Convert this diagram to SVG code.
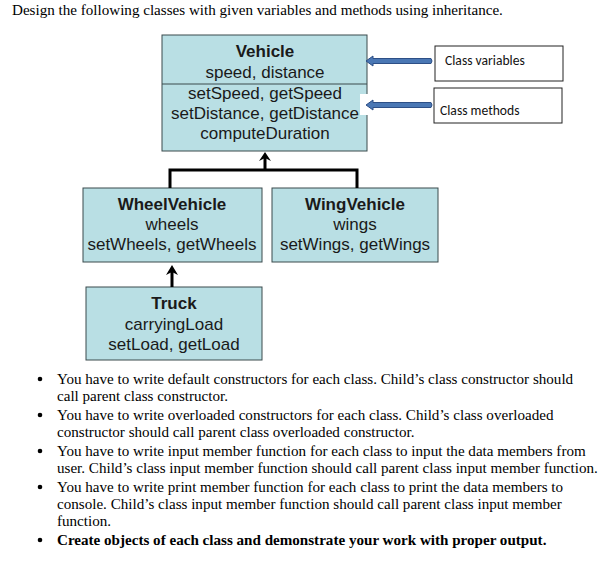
<svg xmlns="http://www.w3.org/2000/svg" width="607" height="564" viewBox="0 0 607 564">
<defs>
<style>
.box{fill:#b9dfe4;stroke:#3a4a4c;stroke-width:1}
.t{font-family:"Liberation Sans",Arial,sans-serif;font-size:17px;fill:#1a1a1a;text-anchor:middle}
.b{font-weight:bold}
.lbl{font-family:Carlito,"Liberation Sans",sans-serif;font-size:13.6px;fill:#111}
.doc{font-family:"Liberation Serif","Times New Roman",serif;font-size:15.1px;fill:#000}
.conn{fill:none;stroke:#000;stroke-width:3}
.blue{fill:#4a77b4;stroke:#2d4f86;stroke-width:1;stroke-linejoin:round}
</style>
</defs>
<rect width="607" height="564" fill="#fff"/>
<text class="doc" x="12" y="15">Design the following classes with given variables and methods using inheritance.</text>

<g id="vehicle">
<rect class="box" x="162" y="35" width="205" height="116"/>
<line x1="162" y1="84" x2="367" y2="84" stroke="#3a4a4c" stroke-width="1"/>
<rect x="360" y="94" width="9" height="21" fill="#fff"/>
<text class="t b" x="265" y="57">Vehicle</text>
<text class="t" x="265" y="78">speed, distance</text>
<text class="t" x="265" y="99">setSpeed, getSpeed</text>
<text class="t" x="265" y="119">setDistance, getDistance</text>
<text class="t" x="265" y="139">computeDuration</text>
</g>

<g id="class-variables">
<rect x="435" y="46" width="128" height="35" fill="#fff" stroke="#222" stroke-width="1"/>
<text class="lbl" x="445" y="65">Class variables</text>
</g>

<g id="class-methods">
<rect x="434" y="88" width="128" height="35" fill="#fff" stroke="#222" stroke-width="1"/>
<text class="lbl" x="440" y="115">Class methods</text>
</g>

<g id="wheelvehicle">
<rect class="box" x="83" y="188" width="179" height="74"/>
<text class="t b" x="172" y="210">WheelVehicle</text>
<text class="t" x="172" y="230">wheels</text>
<text class="t" x="172" y="250">setWheels, getWheels</text>
</g>

<g id="wingvehicle">
<rect class="box" x="272" y="188" width="166" height="74"/>
<text class="t b" x="355" y="210">WingVehicle</text>
<text class="t" x="355" y="230">wings</text>
<text class="t" x="355" y="250">setWings, getWings</text>
</g>

<g id="truck">
<rect class="box" x="86" y="287" width="176" height="73"/>
<text class="t b" x="174" y="309">Truck</text>
<text class="t" x="174" y="330">carryingLoad</text>
<text class="t" x="174" y="350">setLoad, getLoad</text>
</g>

<g id="connectors">
<path class="conn" d="M170,188 V170 H357 V188"/>
<path class="conn" d="M265,170 V158"/>
<path d="M259,161 L265,152 L271,161 L265,158 Z" fill="#000"/>
<path class="conn" d="M172,287 V272"/>
<path d="M166,275 L172,265 L178,275 L172,272 Z" fill="#000"/>
<path class="blue" d="M366,61 L373,56 L373,58.5 L431,58.5 Q433,61 431,63.5 L373,63.5 L373,66 Z"/>
<path class="blue" d="M366,105 L373,100 L373,102.5 L431,102.5 Q433,105 431,107.5 L373,107.5 L373,110 Z"/>
</g>

<g id="notes" class="doc">
<circle cx="40" cy="379" r="2.3"/>
<circle cx="40" cy="415" r="2.3"/>
<circle cx="40" cy="451" r="2.3"/>
<circle cx="40" cy="487" r="2.3"/>
<circle cx="40" cy="540" r="2.3"/>
<text x="57" y="384">You have to write default constructors for each class. Child’s class constructor should</text>
<text x="57" y="401">call parent class constructor.</text>
<text x="57" y="420">You have to write overloaded constructors for each class. Child’s class overloaded</text>
<text x="57" y="437">constructor should call parent class overloaded constructor.</text>
<text x="57" y="456">You have to write input member function for each class to input the data members from</text>
<text x="57" y="473">user. Child’s class input member function should call parent class input member function.</text>
<text x="57" y="492">You have to write print member function for each class to print the data members to</text>
<text x="57" y="509">console. Child’s class input member function should call parent class input member</text>
<text x="57" y="526">function.</text>
<text x="57" y="545" font-weight="bold">Create objects of each class and demonstrate your work with proper output.</text>
</g>
</svg>
